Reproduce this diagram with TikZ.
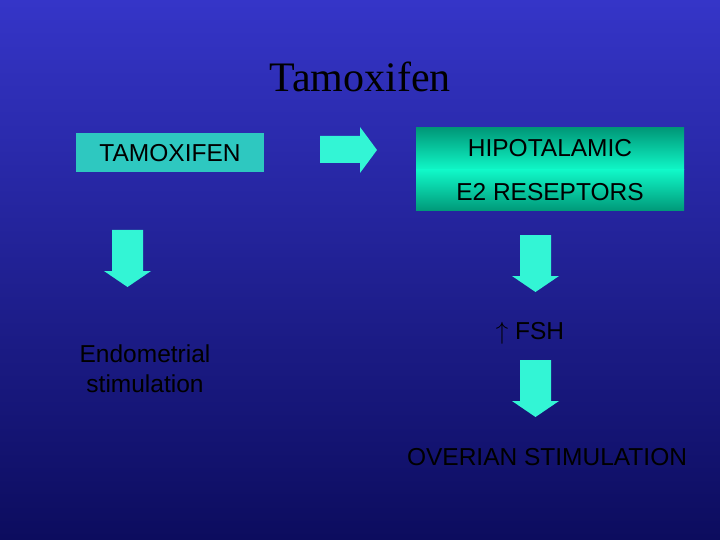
\documentclass[tikz,border=0pt]{standalone}
\usepackage{fontspec}
\setmainfont{Liberation Sans}
\newfontfamily\seriffont{Liberation Serif}
\begin{document}
\begin{tikzpicture}[x=1pt,y=-1pt,
  txt/.style={font=\fontsize{24.5}{30}\selectfont, text=black, inner sep=0pt},
  arr/.style={fill=arrowc, draw=none},
  ]
\definecolor{arrowc}{HTML}{33F5D5}
\definecolor{bgtop}{HTML}{3535C8}
\definecolor{bgbot}{HTML}{0C0C5E}
\definecolor{boxa}{HTML}{2EC8C0}
\definecolor{boxedge}{HTML}{009878}
\definecolor{boxmid}{HTML}{10F8C8}
\useasboundingbox (0,0) rectangle (720,540);
\shade[top color=bgtop, bottom color=bgbot] (0,0) rectangle (720,540);
\node[font=\seriffont\fontsize{42}{48}\selectfont, text=black] (title) at (360,77) {Tamoxifen};
\fill[boxa] (76,133) rectangle (264,172);
\node[txt] (tam) at (170,153) {TAMOXIFEN};
\fill[arr] (320,136) -- (360,136) -- (360,127) -- (377,150) -- (360,173) -- (360,163) -- (320,163) -- cycle;
\shade[top color=boxedge, bottom color=boxmid] (416,128) rectangle (684,170);
\shade[top color=boxmid, bottom color=boxedge] (416,170) rectangle (684,211);
\node[txt] (hip) at (550,148) {HIPOTALAMIC};
\node[txt] (e2) at (550,192) {E2 RESEPTORS};
\fill[arr] (112,230) -- (143,230) -- (143,271) -- (151,271) -- (127.5,287) -- (104,271) -- (112,271) -- cycle;
\node[txt, align=center] (endo) at (145,369) {Endometrial\\stimulation};
\fill[arr] (520,235) -- (551,235) -- (551,276) -- (559,276) -- (535.5,292) -- (512,276) -- (520,276) -- cycle;
\node[txt] (fsh) at (530,333) {$\uparrow$ FSH};
\fill[arr] (520,360) -- (551,360) -- (551,401) -- (559,401) -- (535.5,417) -- (512,401) -- (520,401) -- cycle;
\node[txt] (ovs) at (547,457) {OVERIAN STIMULATION};
\end{tikzpicture}
\end{document}
